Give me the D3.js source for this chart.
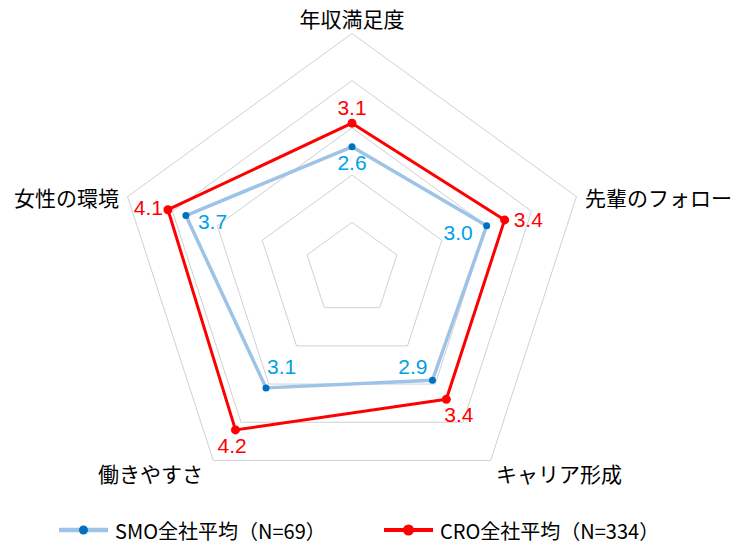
<!DOCTYPE html>
<html>
<head>
<meta charset="utf-8">
<script src="https://cdn.jsdelivr.net/npm/d3@7"></script>
<style>
  body { margin: 0; background: #fff; }
  svg { display: block; }
  .axis-label { font-family: "Noto Sans CJK JP", sans-serif; font-size: 21px; fill: #000; }
  .val { font-family: "Liberation Sans", Arial, sans-serif; font-size: 21px; }
  .legend text { font-family: "Noto Sans CJK JP", sans-serif; font-size: 20px; fill: #000; }
</style>
</head>
<body>
<svg id="chart"></svg>
<script>
const categories = ["年収満足度", "先輩のフォロー", "キャリア形成", "働きやすさ", "女性の環境"];
const smoValues = [2.6, 3.0, 2.9, 3.1, 3.7];
const croValues = [3.1, 3.4, 3.4, 4.2, 4.1];
const seriesNames = ["SMO全社平均（N=69）", "CRO全社平均（N=334）"];
const gridLevels = [1, 2, 3, 4, 5];

const width = 733, height = 552;
const cx = 352, cy = 269.5, R = 236;

const svg = d3.select("#chart")
    .attr("width", width)
    .attr("height", height);

const rScale = d3.scaleLinear().domain([0, 5]).range([0, R]);
const angle = i => i * 2 * Math.PI / categories.length;
const px = (i, v) => cx + rScale(v) * Math.sin(angle(i));
const py = (i, v) => cy - rScale(v) * Math.cos(angle(i));

// grid pentagons
svg.append("g").selectAll("polygon")
    .data(gridLevels)
    .enter()
    .append("polygon")
    .attr("points", lv => categories.map((c, i) => [px(i, lv), py(i, lv)].join(",")).join(" "))
    .attr("fill", "none")
    .attr("stroke", "#d0d0d0")
    .attr("stroke-width", 1);

// category labels
svg.append("g").selectAll("text")
    .data(categories)
    .enter()
    .append("text")
    .attr("class", "axis-label")
    .attr("x", (d, i) => {
        const s = Math.sin(angle(i));
        return cx + (R + 9) * s + (s < -0.5 && Math.cos(angle(i)) < 0 ? -5 : 0);
    })
    .attr("y", (d, i) => cy - (R + 10) * Math.cos(angle(i)) + (i === 0 ? -6 : 4))
    .attr("dominant-baseline", "central")
    .attr("text-anchor", (d, i) => {
        const s = Math.sin(angle(i));
        return s > 0.1 ? "start" : s < -0.1 ? "end" : "middle";
    })
    .text(d => d);

const line = d3.line()
    .x(d => d[0])
    .y(d => d[1])
    .curve(d3.curveLinearClosed);

const series = [
    { name: seriesNames[0], values: smoValues, line: "#9dc3e6", lw: 3.5, dot: "#0070c0", r: 3.5, text: "#00a0e9",
      // label offsets per axis: [dx, dy, anchor]
      labels: [[0, 23, "middle"], [-14, 14, "end"], [-5, -6, "end"], [1, -14, "start"], [12, 13, "start"]] },
    { name: seriesNames[1], values: croValues, line: "#ff0000", lw: 3, dot: "#ff0000", r: 4.5, text: "#ff0000",
      labels: [[0, -8, "middle"], [9, 7, "start"], [-2, 23, "start"], [-18, 23, "start"], [-5, 5, "end"]] }
];

series.forEach(s => {
    const pts = s.values.map((v, i) => [px(i, v), py(i, v)]);
    const g = svg.append("g");
    g.append("path")
        .attr("d", line(pts))
        .attr("fill", "none")
        .attr("stroke", s.line)
        .attr("stroke-width", s.lw)
        .attr("stroke-linejoin", "round");
    g.selectAll("circle")
        .data(pts)
        .enter()
        .append("circle")
        .attr("cx", d => d[0])
        .attr("cy", d => d[1])
        .attr("r", s.r)
        .attr("fill", s.dot);
    g.selectAll("text")
        .data(s.values)
        .enter()
        .append("text")
        .attr("class", "val")
        .attr("x", (d, i) => pts[i][0] + s.labels[i][0])
        .attr("y", (d, i) => pts[i][1] + s.labels[i][1])
        .attr("text-anchor", (d, i) => s.labels[i][2])
        .attr("fill", s.text)
        .text(d => d.toFixed(1));
});

// legend
const legendX = [59, 384];
const legend = svg.append("g").attr("class", "legend");
series.forEach((s, k) => {
    const g = legend.append("g").attr("transform", `translate(${legendX[k]}, 530)`);
    g.append("line")
        .attr("x1", 0).attr("x2", 49)
        .attr("stroke", s.line)
        .attr("stroke-width", s.lw + 1);
    g.append("circle")
        .attr("cx", 24.5)
        .attr("r", s.r + 1)
        .attr("fill", s.dot);
    g.append("text")
        .attr("x", 56)
        .attr("dominant-baseline", "central")
        .text(s.name);
});
</script>
</body>
</html>
